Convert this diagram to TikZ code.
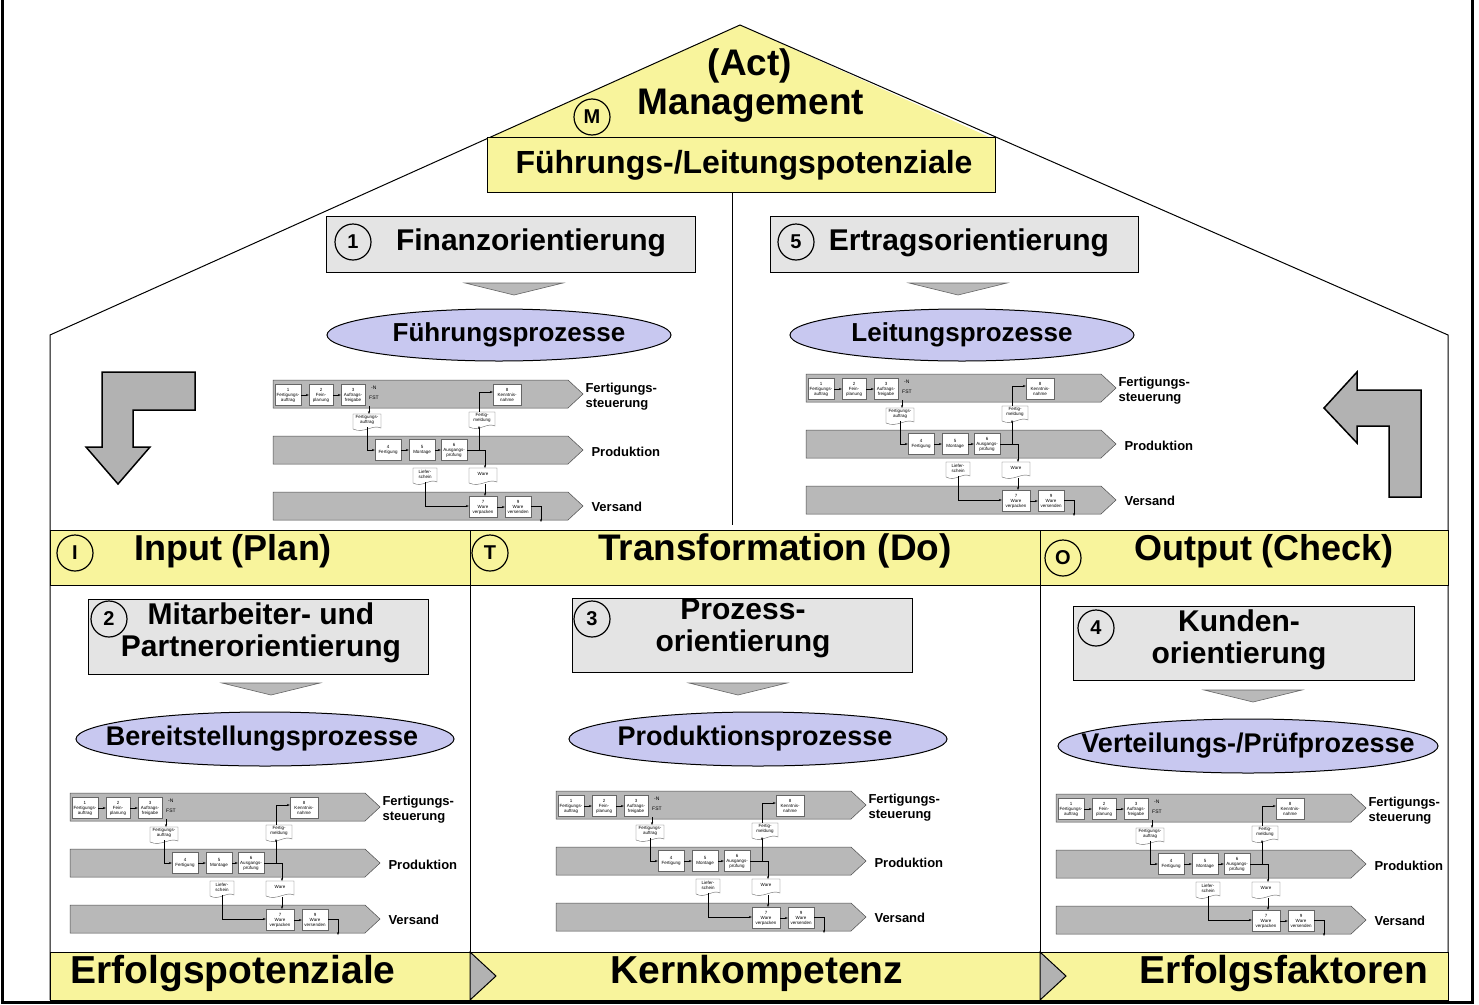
\documentclass[tikz,border=0pt]{standalone}
\usepackage{fontspec}
\setmainfont{Liberation Sans}
\usetikzlibrary{shapes.geometric,arrows.meta}
\begin{document}
\definecolor{yel}{HTML}{F8F49C}
\definecolor{lav}{HTML}{C8C8F0}
\definecolor{gbox}{HTML}{E4E4E4}
\definecolor{lane}{HTML}{B8B8B8}
\begin{tikzpicture}[x=1pt,y=-1pt,
  every node/.style={font=\bfseries},
  circ/.style={draw,circle,line width=1.2pt,minimum size=36pt,inner sep=0pt,font=\bfseries\fontsize{20}{20}\selectfont},
  gbx/.style={draw,fill=gbox,line width=1pt},
  ell/.style={draw,fill=lav,line width=1pt},
  tri/.style={draw=gray!80!black,fill=gray!55,line width=.6pt},
  bigarr/.style={draw,fill=gray!60,line width=1.5pt,line join=miter},
  tb/.style={draw=gray!80!black,fill=white,line width=.4pt,align=center,inner sep=0pt,font=\fontsize{4.5}{5}\selectfont},
  ml/.style={font=\bfseries\fontsize{13}{15}\selectfont,align=left},
  fl/.style={-{Stealth[length=3pt]},line width=.6pt},
  pics/proc/.style={code={
    \foreach \yy in {0,56,112}{
      \draw[fill=lane,draw=gray!60!black,line width=.5pt] (0,\yy) -- (295,\yy) -- (310,\yy+14) -- (295,\yy+28) -- (0,\yy+28) -- cycle;}
    \node[tb,minimum width=26pt,minimum height=21pt] (-b1) at (15,15) {1\\Fertigungs-\\auftrag};
    \node[tb,minimum width=24pt,minimum height=21pt] (-b2) at (48,15) {2\\Fein-\\planung};
    \node[tb,minimum width=24pt,minimum height=21pt] (-b3) at (80,15) {3\\Auftrags-\\freigabe};
    \node[font=\fontsize{5}{5}\selectfont,anchor=west,inner sep=0pt] at (98,8) {-N};
    \node[font=\fontsize{5}{5}\selectfont,anchor=west,inner sep=0pt] at (96,18) {FST};
    \node[tb,minimum width=28pt,minimum height=21pt] (-b8) at (234,15) {8\\Kenntnis-\\nahme};
    \node[tb,minimum width=26pt,minimum height=21pt] (-b4) at (115,70) {4\\Fertigung};
    \node[tb,minimum width=26pt,minimum height=21pt] (-b5) at (149,70) {5\\Montage};
    \node[tb,minimum width=26pt,minimum height=21pt] (-b6) at (181,70) {6\\Ausgangs-\\prüfung};
    \node[tb,minimum width=28pt,minimum height=21pt] (-b7) at (210,127) {7\\Ware\\verpacken};
    \node[tb,minimum width=26pt,minimum height=21pt] (-b9) at (245,127) {9\\Ware\\versenden};
    \foreach \x/\y/\w/\t/\n in {80/34/28/{Fertigungs-\\auftrag}/d1,196/32/26/{Fertig-\\meldung}/d2,140/88/24/{Liefer-\\schein}/d3,196/88/28/{Ware}/d4}{
      \draw[fill=white,draw=gray!80!black,line width=.4pt] (\x,\y) -- (\x+\w,\y) -- (\x+\w,\y+14) .. controls (\x+\w*.7,\y+10) and (\x+\w*.4,\y+20) .. (\x,\y+15) -- cycle;
      \node[align=center,inner sep=0pt,font=\fontsize{4.5}{5}\selectfont] at (\x+\w/2,\y+6) {\t};}
    \draw[fl] (-b1) -- (-b2); \draw[fl] (-b2) -- (-b3);
    \draw[fl] (96,26) -- (96,34);
    \draw[fl] (94,47) -- (94,70) -- (-b4.west);
    \draw[fl] (-b4) -- (-b5); \draw[fl] (-b5) -- (-b6);
    \draw[line width=.6pt] (-b6.east) -- (212,70);
    \draw[fl] (206,70) -- (206,46);
    \draw[fl] (206,32) -- (206,12) -- (-b8.west|-0,12);
    \draw[fl] (212,70) -- (212,88);
    \draw[fl] (212,104) -- (212,116);
    \draw[fl] (152,102) -- (152,126) -- (-b7.west|-0,126);
    \draw[fl] (-b7) -- (-b9);
    \draw[fl] (-b9.east|-0,126) -- (268,126) -- (268,142);
    \node[ml,anchor=north west] at (309,0) {Fertigungs-\\steuerung};
    \node[ml,anchor=west] at (315,72) {Produktion};
    \node[ml,anchor=west] at (315,127) {Versand};
  }}]
\useasboundingbox (0,0) rectangle (1479,1004);
\fill[white] (0,0) rectangle (1479,1004);
% roof
\fill[yel] (740,25) -- (491,137) -- (989,137) -- cycle;
\draw[line width=1pt] (50,1000) -- (50,335) -- (740,25) -- (1448,335) -- (1448,1000);
\draw[line width=1pt] (732,192) -- (732,525);
\draw[gbx,fill=yel] (487,137) rectangle (995,192);
\node[font=\bfseries\fontsize{32}{32}\selectfont] (pot) at (744,165) {Führungs-/Leitungspotenziale};
\node[font=\bfseries\fontsize{37}{37}\selectfont] (act) at (750,66) {(Act)};
\node[font=\bfseries\fontsize{37}{37}\selectfont] (mgmt) at (751,106) {Management};
\node[circ] (cm) at (592,117) {M};
% bands
\draw[fill=yel,line width=1pt] (50,530) rectangle (1448,585);
\draw[fill=yel,line width=1pt] (50,952) rectangle (1448,1000);
\draw[line width=1pt] (470,530) -- (470,1000) (1040,530) -- (1040,1000);
\foreach \x in {470,1040}\draw[fill=gray!60,line width=1pt] (\x,952) -- (\x+26,976) -- (\x,1000) -- cycle;
\node[circ] (ci) at (75,553) {I};
\node[circ] (ct) at (490,553) {T};
\node[circ] (co) at (1063,558) {O};
\node[font=\bfseries\fontsize{36}{36}\selectfont] (inp) at (233,551) {Input (Plan)};
\node[font=\bfseries\fontsize{37}{37}\selectfont] (trf) at (775,551) {Transformation (Do)};
\node[font=\bfseries\fontsize{36}{36}\selectfont] (out) at (1264,551) {Output (Check)};
\node[font=\bfseries\fontsize{39}{39}\selectfont] (ep) at (233,973) {Erfolgspotenziale};
\node[font=\bfseries\fontsize{39}{39}\selectfont] (kk) at (757,973) {Kernkompetenz};
\node[font=\bfseries\fontsize{39}{39}\selectfont] (ef) at (1284,973) {Erfolgsfaktoren};
% gray boxes
\draw[gbx] (326,216) rectangle (695,272);
\node[font=\bfseries\fontsize{30}{30}\selectfont] (fin) at (531,243) {Finanzorientierung};
\node[circ] (c1) at (353,242) {1};
\draw[gbx] (770,216) rectangle (1138,272);
\node[font=\bfseries\fontsize{30}{30}\selectfont] (ert) at (969,243) {Ertragsorientierung};
\node[circ] (c5) at (796,242) {5};
\draw[gbx] (88,599) rectangle (428,674);
\node[font=\bfseries\fontsize{30}{32}\selectfont,align=center] (mit) at (261,633) {Mitarbeiter- und\\Partnerorientierung};
\node[circ] (c2) at (109,619) {2};
\draw[gbx] (572,598) rectangle (912,672);
\node[font=\bfseries\fontsize{30}{32}\selectfont,align=center] (pro) at (743,628) {Prozess-\\orientierung};
\node[circ] (c3) at (592,619) {3};
\draw[gbx] (1073,606) rectangle (1414,680);
\node[font=\bfseries\fontsize{30}{32}\selectfont,align=center] (kun) at (1239,640) {Kunden-\\orientierung};
\node[circ] (c4) at (1096,628) {4};
% triangles
\foreach \a/\y in {514/283,958/283,271/683,738/683,1253/690}
  \draw[tri] (\a-49,\y) -- (\a+49,\y) -- (\a,\y+12) -- cycle;
% ellipses
\draw[ell] (499,335) ellipse [x radius=172, y radius=26];
\node[font=\bfseries\fontsize{26}{26}\selectfont] (e1) at (509,335) {Führungsprozesse};
\draw[ell] (962,335) ellipse [x radius=172, y radius=26];
\node[font=\bfseries\fontsize{26}{26}\selectfont] (e2) at (962,335) {Leitungsprozesse};
\draw[ell] (265,739) ellipse [x radius=189, y radius=27];
\node[font=\bfseries\fontsize{27}{27}\selectfont] (e3) at (262,739) {Bereitstellungsprozesse};
\draw[ell] (758,739) ellipse [x radius=189, y radius=27];
\node[font=\bfseries\fontsize{27}{27}\selectfont] (e4) at (755,739) {Produktionsprozesse};
\draw[ell] (1248,746) ellipse [x radius=190, y radius=27];
\node[font=\bfseries\fontsize{27}{27}\selectfont] (e5) at (1248,746) {Verteilungs-/Prüfprozesse};
% big arrows
\draw[bigarr] (102,372) -- (195,372) -- (195,410) -- (133,410) -- (133,447) -- (150,447) -- (118,484) -- (86,447) -- (102,447) -- cycle;
\draw[bigarr] (1421,390) -- (1421,497) -- (1389,497) -- (1389,426) -- (1357,426) -- (1357,443) -- (1324,408) -- (1357,372) -- (1357,390) -- cycle;
% mini process diagrams
\pic (p1) at (273,380) {proc};
\pic (p2) at (806,374) {proc};
\pic (p3) at (70,793) {proc};
\pic (p4) at (556,791) {proc};
\pic (p5) at (1056,794) {proc};
% frame
\draw[line width=3pt] (2,0) -- (2,1002) -- (1472,1002) -- (1472,0);
\end{tikzpicture}
\end{document}
